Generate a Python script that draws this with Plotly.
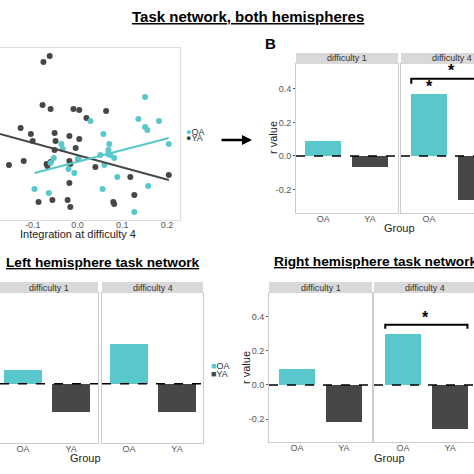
'''Task network figure'''
import plotly.graph_objects as go

CYAN = "#58c8cc"
DARK = "#474747"
FONT = "Liberation Sans"

# scatter data (integration at difficulty 4 vs score)
ya_x = [-0.062, -0.076, -0.078, -0.060, -0.009, 0.004, 0.064, 0.020, -0.127, -0.104, -0.100,
        -0.051, -0.049, -0.018, 0.004, -0.004, -0.051, -0.153, -0.120, -0.069, -0.067, -0.060,
        -0.018, -0.016, 0.002, 0.040, 0.118, 0.204, -0.018, 0.127, -0.087, -0.056, -0.022,
        -0.016, 0.080, 0.082]
ya_y = [1.64, 1.58, 1.15, 1.11, 1.11, 1.10, 1.09, 1.02, 0.92, 0.86, 0.79,
        0.87, 0.79, 0.84, 0.81, 0.72, 0.70, 0.55, 0.59, 0.56, 0.54, 0.58,
        0.59, 0.56, 0.61, 0.53, 0.43, 0.45, 0.37, 0.25, 0.18, 0.20, 0.20,
        0.13, 0.18, 0.16]
oa_x = [0.151, 0.029, 0.136, 0.151, 0.156, 0.182, 0.058, -0.036, -0.033, 0.071, 0.069,
        0.069, 0.073, 0.051, 0.082, 0.002, -0.053, -0.060, 0.060, -0.020, -0.007, 0.089,
        0.204, -0.096, -0.064, 0.056, 0.158, 0.127]
oa_y = [1.23, 0.99, 1.01, 0.93, 0.90, 0.99, 0.86, 0.76, 0.71, 0.76, 0.70,
        0.66, 0.65, 0.65, 0.62, 0.62, 0.62, 0.57, 0.55, 0.51, 0.47, 0.43,
        0.76, 0.31, 0.27, 0.31, 0.34, 0.08]
ya_fit_x = [-0.173, 0.204]
ya_fit_y = [0.86, 0.40]
oa_fit_x = [-0.096, 0.204]
oa_fit_y = [0.47, 0.82]

groups = ["OA", "YA"]
# r values per panel: [OA, YA]
both_d1 = [0.089, -0.065]
both_d4 = [0.37, -0.26]
left_d1 = [0.078, -0.17]
left_d4 = [0.235, -0.17]
right_d1 = [0.094, -0.218]
right_d4 = [0.30, -0.26]
yticks = [-0.2, 0.0, 0.2, 0.4]


def fx(px):
    return px / 474


def fy(py):
    return 1 - py / 474


fig = go.Figure()
shapes = []
annos = []
layout = {}

# ---------- scatter ----------
fig.add_trace(go.Scatter(x=ya_x, y=ya_y, mode="markers", marker=dict(color=DARK, size=6),
                         xaxis="x", yaxis="y", showlegend=False))
fig.add_trace(go.Scatter(x=oa_x, y=oa_y, mode="markers", marker=dict(color=CYAN, size=6),
                         xaxis="x", yaxis="y", showlegend=False))
fig.add_trace(go.Scatter(x=ya_fit_x, y=ya_fit_y, mode="lines", line=dict(color=DARK, width=2),
                         xaxis="x", yaxis="y", showlegend=False))
fig.add_trace(go.Scatter(x=oa_fit_x, y=oa_fit_y, mode="lines", line=dict(color=CYAN, width=2),
                         xaxis="x", yaxis="y", showlegend=False))
layout["xaxis"] = dict(domain=[fx(0), fx(180)], range=[-0.173, 0.229], tickvals=[-0.1, 0.0, 0.1, 0.2],
                       ticktext=["-0.1", "0.0", "0.1", "0.2"], showgrid=False, zeroline=False,
                       showline=True, mirror=True, linecolor="#dddddd", ticks="",
                       ticklabelstandoff=-4,
                       tickfont=dict(size=9, color="#555555"), anchor="y")
layout["yaxis"] = dict(domain=[fy(220), fy(48)], range=[0, 1.72], showticklabels=False,
                       showgrid=False, zeroline=False, showline=True, mirror=True,
                       linecolor="#dddddd", anchor="x")
annos.append(dict(text="Integration at difficulty 4", x=fx(78), y=fy(234), xref="paper", yref="paper",
                  showarrow=False, font=dict(size=11, color="#222222")))
for lab, col, py in [("OA", CYAN, 132), ("YA", DARK, 138)]:
    annos.append(dict(text="<span style='color:%s'>●</span>%s" % (col, lab), x=fx(184), y=fy(py),
                      xref="paper", yref="paper", xanchor="left", showarrow=False,
                      font=dict(size=9, color="#333333")))
annos.append(dict(x=fx(252), y=fy(140), ax=-32, ay=0, xref="paper", yref="paper",
                  showarrow=True, arrowhead=2, arrowwidth=2.5,
                  arrowsize=0.8, arrowcolor="black", text=""))

# ---------- bar panels ----------
n_ax = [1]


def bar_panel(vals, xpx, ypx, xr, yr, strip, showy):
    n_ax[0] += 1
    k = n_ax[0]
    fig.add_trace(go.Bar(x=[0, 1], y=vals, marker=dict(color=[CYAN, DARK], line_width=0), width=0.78,
                         xaxis="x%d" % k, yaxis="y%d" % k, showlegend=False))
    layout["xaxis%d" % k] = dict(domain=[fx(xpx[0]), fx(xpx[1])], range=xr, tickvals=[0, 1],
                                 ticktext=groups, showgrid=False, zeroline=False, showline=True,
                                 mirror=True, linecolor="#cccccc", ticks="", anchor="y%d" % k,
                                 ticklabelstandoff=-3,
                                 tickfont=dict(size=9, color="#555555"))
    layout["yaxis%d" % k] = dict(domain=[fy(ypx[1]), fy(ypx[0])], range=yr, tickvals=yticks,
                                 ticktext=["-0.2", "0.0", "0.2", "0.4"], showticklabels=showy,
                                 showgrid=False, zeroline=False, showline=True, mirror=True,
                                 linecolor="#cccccc", ticks="outside" if showy else "", ticklen=2,
                                 tickcolor="#555555", anchor="x%d" % k,
                                 tickfont=dict(size=9, color="#555555"))
    shapes.append(dict(type="line", xref="x%d" % k, yref="y%d" % k, x0=xr[0], x1=xr[1], y0=0, y1=0,
                       line=dict(color="black", width=1.5, dash="dash")))
    shapes.append(dict(type="rect", xref="paper", yref="paper", x0=fx(xpx[0]), x1=fx(xpx[1]),
                       y0=fy(ypx[0]), y1=fy(ypx[0] - 11), fillcolor="#d9d9d9", line_width=0))
    cx = (xpx[0] + xpx[1]) / 2 if xpx[1] < 474 else xpx[0] + 51
    annos.append(dict(text=strip, x=fx(cx), y=fy(ypx[0] - 5.5), xref="paper", yref="paper",
                      showarrow=False, font=dict(size=9, color="#333333")))
    return k


# top right (both hemispheres)
bar_panel(both_d1, (296, 398), (64, 213), [-0.58, 1.6], [-0.34, 0.548], "difficulty 1", True)
k4 = bar_panel(both_d4, (401, 474), (64, 213), [-0.6, 0.96], [-0.34, 0.548], "difficulty 4", False)
shapes.append(dict(type="path", xref="x%d" % k4, yref="y%d" % k4,
                   path="M -0.38 0.43 L -0.38 0.46 L 1.2 0.46", line=dict(color="black", width=2)))
annos.append(dict(text="<b>*</b>", x=0.47, y=0.48, xref="x%d" % k4, yref="y%d" % k4, showarrow=False,
                  yanchor="bottom", font=dict(size=16, color="black"), yshift=-6))
annos.append(dict(text="<b>*</b>", x=0.0, y=0.385, xref="x%d" % k4, yref="y%d" % k4, showarrow=False,
                  yanchor="bottom", font=dict(size=16, color="black"), yshift=-6))
annos.append(dict(text="Group", x=fx(399), y=fy(228), xref="paper", yref="paper", showarrow=False,
                  font=dict(size=11, color="#222222")))
annos.append(dict(text="r value", x=fx(273), y=fy(138), xref="paper", yref="paper", showarrow=False,
                  textangle=-90, font=dict(size=11, color="#222222")))
annos.append(dict(text="<b>B</b>", x=fx(270), y=fy(44), xref="paper", yref="paper", showarrow=False,
                  font=dict(size=15, color="black")))

# bottom left (left hemisphere)
bar_panel(left_d1, (0, 98), (293, 443), [-0.48, 1.56], [-0.35, 0.535], "difficulty 1", False)
bar_panel(left_d4, (102, 203), (293, 443), [-0.56, 1.54], [-0.35, 0.535], "difficulty 4", False)
annos.append(dict(text="Group", x=fx(85), y=fy(458), xref="paper", yref="paper", showarrow=False,
                  font=dict(size=11, color="#222222")))
for lab, col, py in [("OA", CYAN, 366), ("YA", DARK, 374)]:
    annos.append(dict(text="<span style='color:%s'>■</span>%s" % (col, lab), x=fx(209), y=fy(py),
                      xref="paper", yref="paper", xanchor="left", showarrow=False,
                      font=dict(size=9, color="#333333")))

# bottom right (right hemisphere)
bar_panel(right_d1, (269, 372), (293, 442), [-0.6, 1.6], [-0.335, 0.54], "difficulty 1", True)
k4 = bar_panel(right_d4, (374, 474), (293, 442), [-0.62, 1.51], [-0.335, 0.54], "difficulty 4", False)
shapes.append(dict(type="path", xref="x%d" % k4, yref="y%d" % k4,
                   path="M -0.38 0.33 L -0.38 0.353 L 1.37 0.353 L 1.37 0.33",
                   line=dict(color="black", width=2)))
annos.append(dict(text="<b>*</b>", x=0.47, y=0.37, xref="x%d" % k4, yref="y%d" % k4, showarrow=False,
                  yanchor="bottom", font=dict(size=16, color="black"), yshift=-6))
annos.append(dict(text="Group", x=fx(389), y=fy(458), xref="paper", yref="paper", showarrow=False,
                  font=dict(size=11, color="#222222")))
annos.append(dict(text="r value", x=fx(246), y=fy(368), xref="paper", yref="paper", showarrow=False,
                  textangle=-90, font=dict(size=11, color="#222222")))

# titles
for t, x0, py, anchor, sz in [("Task network, both hemispheres", 248, 16, "center", 15),
                              ("Left hemisphere task network", 4, 262, "left", 13.7),
                              ("Right hemisphere task network", 272, 261, "left", 13.7)]:
    annos.append(dict(text="<b><u>%s</u></b>" % t, x=fx(x0), y=fy(py), xref="paper", yref="paper",
                      xanchor=anchor, showarrow=False, font=dict(size=sz, color="black")))

for a in annos:
    a.setdefault("xanchor", "center")
    a.setdefault("yanchor", "middle")

fig.update_layout(width=474, height=474, margin=dict(l=0, r=0, t=0, b=0), plot_bgcolor="white",
                  paper_bgcolor="white", font=dict(family=FONT), shapes=shapes, annotations=annos,
                  bargap=0, **layout)
fig.write_html("out.html", config={"displayModeBar": False},
               post_script="document.body.style.margin='0';")
